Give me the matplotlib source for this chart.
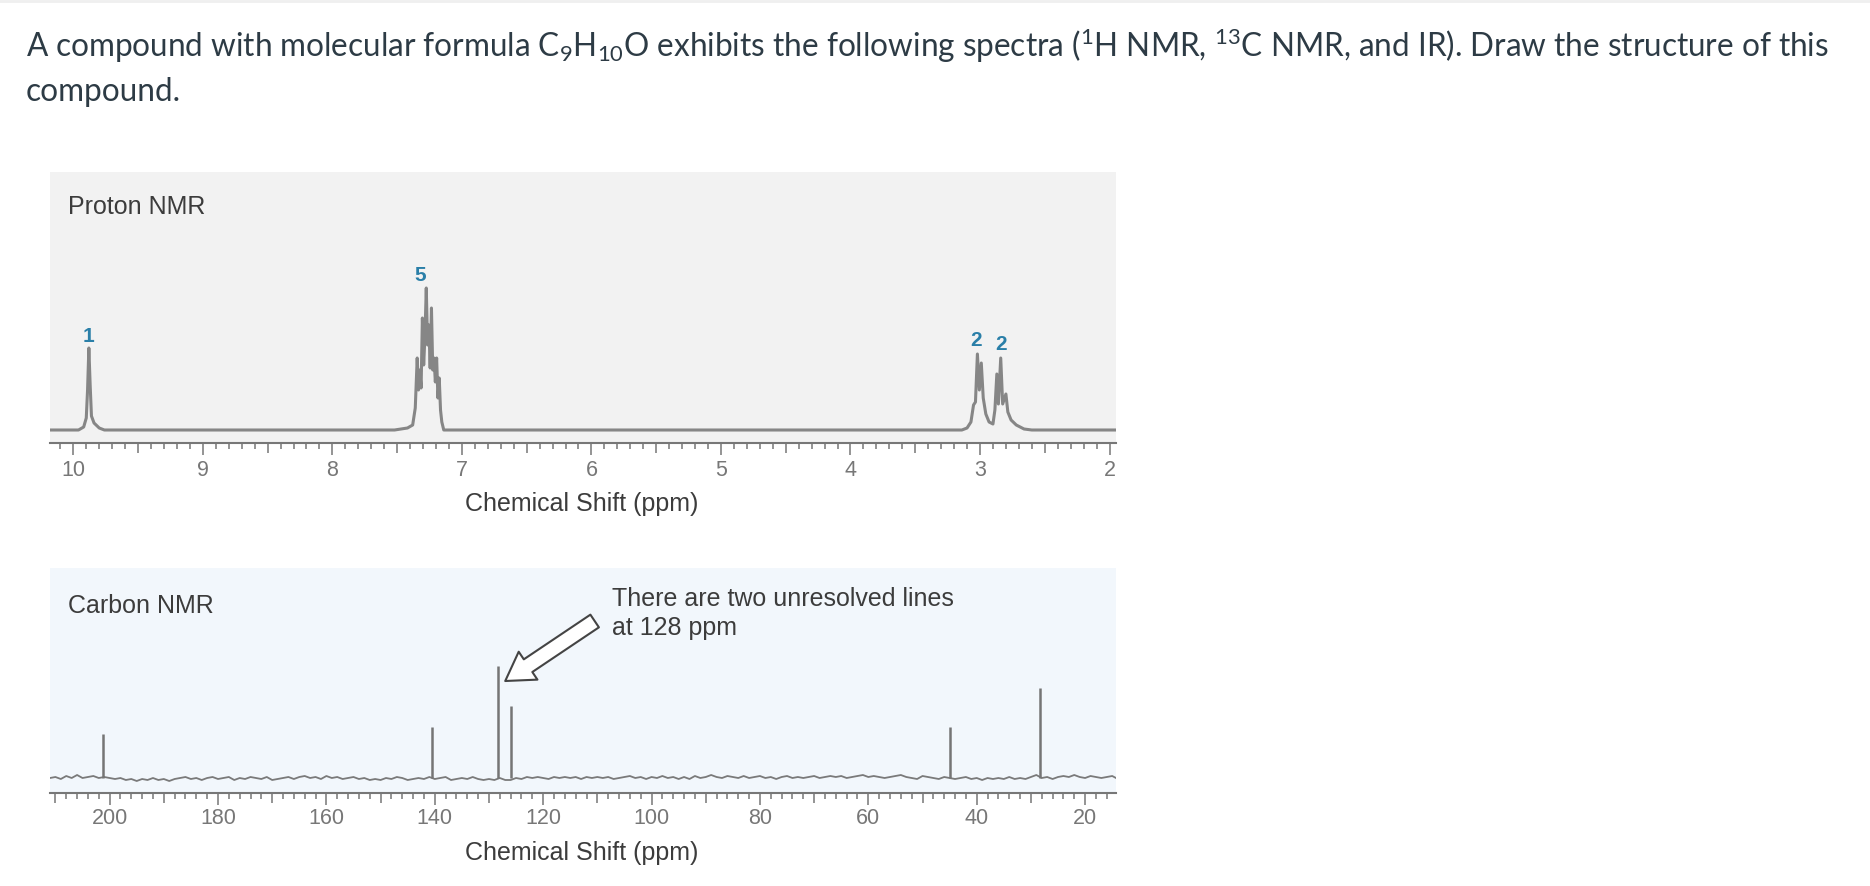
import matplotlib
matplotlib.use('Agg')
import matplotlib.pyplot as plt

W, H = 1870, 886
plt.rcParams['font.family'] = ['Liberation Sans', 'DejaVu Sans']
plt.rcParams['mathtext.default'] = 'regular'

# proton spectrum: ppm and height above the baseline
h_ppm = [10.18, 9.96, 9.92, 9.90, 9.89, 9.88, 9.87, 9.86, 9.84, 9.80, 9.76, 7.52, 7.42, 7.38, 7.36, 7.345, 7.335, 7.325,
         7.315, 7.305, 7.295, 7.285, 7.275, 7.265, 7.255, 7.245, 7.235, 7.225, 7.215, 7.205, 7.195, 7.185, 7.175, 7.165,
         7.155, 7.14, 7.10, 3.14, 3.10, 3.07, 3.05, 3.035, 3.02, 3.005, 2.99, 2.975, 2.955, 2.93, 2.90, 2.885, 2.87,
         2.858, 2.84, 2.825, 2.80, 2.785, 2.76, 2.72, 2.66, 2.60, 1.95]
h_val = [0, 0, 3, 12, 40, 82, 45, 14, 7, 2, 0, 0, 2, 5, 22, 72, 40, 60, 42, 112, 65, 95, 142, 85, 105, 62, 122, 60, 72, 48, 72, 32, 52, 20,
         8, 0, 0, 0, 2, 8, 25, 28, 76, 40, 67, 32, 16, 8, 6, 20, 56, 26, 72, 26, 36, 18, 10, 5, 1, 0, 0]

# hand read wiggle of the carbon baseline, one value per ppm
c_noise_ppm = [211, 210, 209, 208, 207, 206, 205, 204, 203, 202, 201, 200, 199, 198, 197, 196, 195, 194, 193, 192, 191, 190,
               189, 188, 187, 186, 185, 184, 183, 182, 181, 180, 179, 178, 177, 176, 175, 174, 173, 172, 171, 170, 169,
               168, 167, 166, 165, 164, 163, 162, 161, 160, 159, 158, 157, 156, 155, 154, 153, 152, 151, 150, 149, 148,
               147, 146, 145, 144, 143, 142, 141, 140, 139, 138, 137, 136, 135, 134, 133, 132, 131, 130, 129, 128, 127,
               126, 125, 124, 123, 122, 121, 120, 119, 118, 117, 116, 115, 114, 113, 112, 111, 110, 109, 108, 107, 106,
               105, 104, 103, 102, 101, 100, 99, 98, 97, 96, 95, 94, 93, 92, 91, 90, 89, 88, 87, 86, 85, 84, 83, 82, 81,
               80, 79, 78, 77, 76, 75, 74, 73, 72, 71, 70, 69, 68, 67, 66, 65, 64, 63, 62, 61, 60, 59, 58, 57, 56, 55, 54,
               53, 52, 51, 50, 49, 48, 47, 46, 45, 44, 43, 42, 41, 40, 39, 38, 37, 36, 35, 34, 33, 32, 31, 30, 29, 28, 27,
               26, 25, 24, 23, 22, 21, 20, 19, 18, 17, 16, 15, 14.3]
c_noise_val = [0, 1, -1, 2, 0, 3, 0, 1, 2, 0, 1, 0, -1, 0, -2, -1, -3, -1, -2, 0, -2, -1, -3, -1, 0, 1, -1, 0, -2, 0, 1, -1, 0, 1, -2, 0,
               -1, 1, 0, -1, 1, -2, -1, 0, 1, -1, 1, 2, 0, 1, -1, 2, 0, 1, -1, 0, 1, -1, 0, -2, -1, -2, 0, -1, 1, 0, -2,
               -1, 0, -1, 1, -1, 0, 1, -2, -1, 0, -1, 1, -1, -2, -1, -2, 0, -2, -2, 0, -1, 1, 0, 1, 0, -1, 1, 0, 1, 0, 1,
               -1, 1, 0, 1, 0, 1, -1, 0, 1, 2, 0, 1, -1, 1, 0, 2, 0, 1, -1, 1, -1, 2, 0, 1, 3, 1, 0, 2, 1, 0, 2, 0, 1, 2,
               0, 1, -1, 1, 2, 0, 1, 0, 1, 2, 0, 1, 2, 1, 2, 0, 1, 2, 3, 1, 2, 1, 0, 1, 2, 3, 1, 0, -1, 2, 1, 0, -1, 1, 0,
               -1, 0, 1, -1, 0, -2, 0, -1, 0, -1, 1, -1, 0, -1, 1, 3, 0, 1, -1, 1, 2, 1, 3, 1, 0, 2, 1, 0, 1, 2, 0]
c_peak_ppm = [201.3, 140.6, 128.4, 126.0, 44.9, 28.3]
c_peak_val = [44, 51, 112, 72, 51, 90]

h_major = [10, 9, 8, 7, 6, 5, 4, 3, 2]
c_major = [200, 180, 160, 140, 120, 100, 80, 60, 40, 20]
h_mid = [9.5, 8.5, 7.5, 6.5, 5.5, 4.5, 3.5, 2.5]
c_mid = [210, 190, 170, 150, 130, 110, 90, 70, 50, 30]
h_minor = [round(2 + 0.1 * i, 1) for i in range(82) if i % 10 and i % 5]
c_minor = [v for v in range(16, 210, 2) if v % 10]
h_counts = [('1', 9.88), ('5', 7.32), ('2', 3.03), ('2', 2.84)]
h_count_y = [84, 145, 80, 76]

fig = plt.figure(figsize=(W / 100, H / 100), dpi=100)
bg = fig.add_axes([0, 0, 1, 1])
bg.set_xlim(0, W)
bg.set_ylim(H, 0)
bg.axis('off')
bg.set_zorder(5)  # keeps the panel labels above the coloured panels
bg.axhline(0.5, color='#efefef', lw=2)

title_kw = dict(family=['Lato', 'DejaVu Sans'], fontsize=22.7, color='#2d3b45', va='baseline')
bg.text(26, 57, 'A compound with molecular formula C$_{9}$H$_{10}$O exhibits the following spectra '
        '($^{1}$H NMR, $^{13}$C NMR, and IR). Draw the structure of this', **title_kw)
bg.text(26, 101, 'compound.', **title_kw)


def make_panel(top, bottom, base, xlim, color):
    ax = fig.add_axes([50 / W, 1 - bottom / H, 1066 / W, (bottom - top) / H])
    ax.set_facecolor(color)
    ax.set_xlim(*xlim)
    # y unit is a pixel above the baseline
    ax.set_ylim(base - bottom, base - top)
    for s in ['top', 'left', 'right']:
        ax.spines[s].set_visible(False)
    ax.spines['bottom'].set_color('#777777')
    ax.spines['bottom'].set_linewidth(1.5)
    ax.set_yticks([])
    return ax


def style_ticks(ax, major, mid, minor, pad):
    ax.set_xticks(major)
    ax.set_xticks(mid + minor, minor=True)
    ax.tick_params(axis='x', which='major', length=8.5, width=1.1, color='#777777', labelsize=15.5, labelcolor='#777777', pad=pad)
    ax.tick_params(axis='x', which='minor', length=4.5, width=1.1, color='#777777')
    for tick in ax.xaxis.get_minor_ticks()[:len(mid)]:
        tick.tick1line.set_markersize(7)


# proton panel
ax1 = make_panel(172, 443, 430, (10.18, 1.95), '#f2f2f2')
ax1.plot(h_ppm, h_val, color='#868686', lw=2.2)
style_ticks(ax1, h_major, h_mid, h_minor, 4)
for (lab, x), y in zip(h_counts, h_count_y):
    ax1.text(x, y, lab, color='#2a7fa8', fontsize=15, fontweight='bold', ha='center', va='bottom')
bg.text(68, 207, 'Proton NMR', fontsize=18, color='#3c3c3c', va='center')
bg.text(582, 504, 'Chemical Shift (ppm)', fontsize=18, color='#3c3c3c', ha='center', va='center')

# carbon panel
ax2 = make_panel(568, 793, 778, (211, 14.3), '#f2f7fc')
ax2.plot(c_noise_ppm, c_noise_val, color='#7a7a7a', lw=1.3)
ax2.vlines(c_peak_ppm, 0, c_peak_val, color='#757575', lw=1.8)
style_ticks(ax2, c_major, c_mid, c_minor, 2)
bg.text(68, 606, 'Carbon NMR', fontsize=18, color='#3c3c3c', va='center')
bg.text(612, 599, 'There are two unresolved lines', fontsize=18, color='#3c3c3c', va='center')
bg.text(612, 628, 'at 128 ppm', fontsize=18, color='#3c3c3c', va='center')
bg.text(582, 853, 'Chemical Shift (ppm)', fontsize=18, color='#3c3c3c', ha='center', va='center')
ax2.annotate('', xy=(127.0, 97), xytext=(110.5, 157),
             arrowprops=dict(arrowstyle='simple,head_length=0.9,head_width=1.1,tail_width=0.5', fc='white', ec='#444444',
                             lw=1.5, shrinkA=0, shrinkB=0, mutation_scale=22))

fig.savefig('out.png', dpi=100)
